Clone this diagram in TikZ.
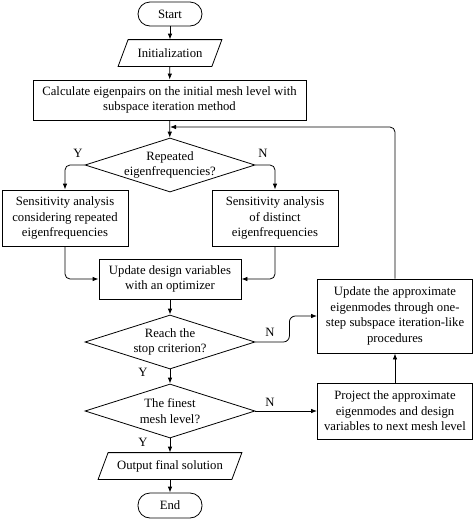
\documentclass[tikz,border=0pt]{standalone}
\usepackage{fontspec}
\setmainfont{Liberation Serif}
\usetikzlibrary{shapes.geometric,arrows.meta,calc}
\begin{document}
\begin{tikzpicture}[x=1pt,y=-1pt,
  font=\fontsize{12.7}{15.5}\selectfont,
  line width=0.8pt,
  box/.style={draw,rectangle,align=center,inner sep=0pt},
  term/.style={draw,rectangle,rounded corners=12pt,minimum width=64pt,minimum height=24pt,inner sep=0pt},
  para/.style={rectangle,inner sep=0pt,align=center},
  dia/.style={draw,diamond,align=center,inner sep=-12pt,aspect=3.15,minimum width=170pt,minimum height=54pt},
  arr/.style={-{Latex[length=6pt,width=4.5pt]}},
  lbl/.style={inner sep=0pt}]
\useasboundingbox (0,0) rectangle (474,520);
\node[term] (start) at (170,14) {Start};
\node[para,minimum width=93pt,minimum height=26pt] (init) at (170,53) {Initialization};
\draw ($(init.south west)+(-5,0)$) -- ($(init.north west)+(5,0)$) -- ($(init.north east)+(5,0)$) -- ($(init.south east)+(-5,0)$) -- cycle;
\node[box,minimum width=273pt,minimum height=40pt] (calc) at (169.5,100) {Calculate eigenpairs on the initial mesh level with\\subspace iteration method};
\node[dia] (d1) at (170,165) {Repeated\\eigenfrequencies?};
\node[box,minimum width=126pt,minimum height=56pt] (sl) at (65,218) {Sensitivity analysis\\considering repeated\\eigenfrequencies};
\node[box,minimum width=126pt,minimum height=56pt] (sr) at (275,218) {Sensitivity analysis\\of distinct\\eigenfrequencies};
\node[box,minimum width=142pt,minimum height=40pt] (ud) at (170,279) {Update design variables\\with an optimizer};
\node[dia] (d2) at (170,342) {Reach the\\stop criterion?};
\node[box,minimum width=155pt,minimum height=74pt] (ua) at (395,316) {Update the approximate\\eigenmodes through one-\\step subspace iteration-like\\procedures};
\node[dia] (d3) at (170,411) {The finest\\mesh level?};
\node[box,minimum width=155pt,minimum height=56pt] (pr) at (395,411) {Project the approximate\\eigenmodes and design\\variables to next mesh level};
\node[para,minimum width=133pt,minimum height=26pt] (out) at (170,466) {Output final solution};
\draw ($(out.south west)+(-5,0)$) -- ($(out.north west)+(5,0)$) -- ($(out.north east)+(5,0)$) -- ($(out.south east)+(-5,0)$) -- cycle;
\node[term,minimum height=25pt] (end) at (170,505.5) {End};
\coordinate (j) at (170,127);
% connectors
\draw[arr] (start) -- (init);
\draw[arr] (init) -- (calc);
\draw[arr] (calc) -- (d1);
\draw[arr,rounded corners=5pt] (ua.north) |- (j);
\draw[arr,rounded corners=5pt] (d1.west) -| (sl.north);
\draw[arr,rounded corners=5pt] (d1.east) -| (sr.north);
\draw[arr,rounded corners=5pt] (sl.south) |- (ud.west);
\draw[arr,rounded corners=5pt] (sr.south) |- (ud.east);
\draw[arr] (ud) -- (d2);
\draw[arr,rounded corners=6pt] (d2.east) -- ++(34,0) |- (ua.west);
\draw[arr] (d2) -- (d3);
\draw[arr] (d3) -- (pr);
\draw[arr] (pr) -- (ua);
\draw[arr] (d3) -- (out);
\draw[arr] (out) -- (end);
% labels
\node[lbl] (ly1) at (78,153) {Y};
\node[lbl] (ln1) at (263,153) {N};
\node[lbl] (ln2) at (270,332) {N};
\node[lbl] (ly2) at (143,372) {Y};
\node[lbl] (ln3) at (270,402) {N};
\node[lbl] (ly3) at (143,442) {Y};
\end{tikzpicture}
\end{document}
